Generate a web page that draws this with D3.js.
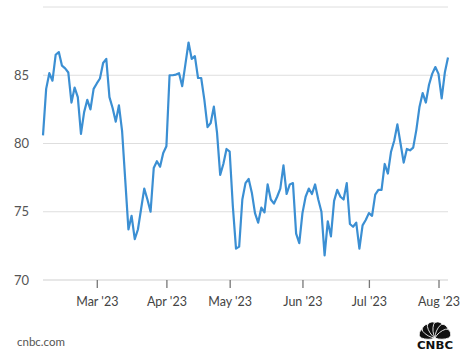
<!DOCTYPE html>
<html>
<head>
<meta charset="utf-8">
<script src="https://cdn.jsdelivr.net/npm/d3@7"></script>
<style>
  body { margin: 0; background: #fff; }
  svg { display: block; font-family: Lato, "Open Sans", sans-serif; }
</style>
</head>
<body>
<div id="chart"></div>
<script>
// Werte je Handelstag (Feb – Aug 2023)
const values = [
  80.6, 84.0, 85.15, 84.6, 86.5, 86.7, 85.7, 85.5, 85.2, 83.0,
  84.1, 83.4, 80.7, 82.3, 83.2, 82.5, 84.0, 84.4, 84.76, 85.9,
  86.2, 83.4, 82.6, 81.6, 82.8, 80.9, 77.3, 73.7, 74.7, 73.0,
  73.7, 75.2, 76.7, 75.9, 75.0, 78.2, 78.7, 78.3, 79.3, 79.8,
  85.0, 85.0, 85.05, 85.15, 84.2, 85.8, 87.4, 86.2, 86.4, 84.8,
  84.8, 83.2, 81.2, 81.5, 82.7, 80.8, 77.7, 78.5, 79.6, 79.4,
  75.4, 72.3, 72.45, 75.9, 77.1, 77.4, 76.4, 74.9, 74.2, 75.3,
  74.95, 77.0, 75.9, 75.6, 76.1, 76.7, 78.4, 76.3, 77.0, 77.1,
  73.4, 72.7, 74.9, 76.1, 76.7, 76.3, 77.0, 75.9, 75.0, 71.8,
  74.3, 73.2, 75.8, 76.6, 76.1, 75.9, 77.1, 74.1, 73.9, 74.2,
  72.3, 74.0, 74.4, 74.9, 74.7, 76.25, 76.6, 76.6, 78.5, 77.8,
  79.4, 80.2, 81.4, 80.0, 78.6, 79.6, 79.5, 79.7, 81.0, 82.7,
  83.7, 83.0, 84.3, 85.1, 85.6, 85.1, 83.3, 85.2, 86.3
];

// Monatsanfang als Index in der Reihe
const tickIndex = [17, 39, 59, 82, 103, 125];
const tickLabels = ["Mar '23", "Apr '23", "May '23", "Jun '23", "Jul '23", "Aug '23"];

const yTicks = [70, 75, 80, 85];
const yGrid = [70, 75, 80, 85, 90];

const width = 474, height = 362;
const margin = {top: 7, right: 26, bottom: 82, left: 43};

const svg = d3.select("#chart").append("svg")
    .attr("width", width)
    .attr("height", height);

const x = d3.scaleLinear()
    .domain([0, values.length - 1])
    .range([margin.left, width - margin.right]);

const y = d3.scaleLinear()
    .domain([70, 90])
    .range([height - margin.bottom, margin.top]);

// Rasterlinien
svg.selectAll(".grid")
    .data(yGrid)
    .enter()
    .append("line")
    .attr("class", "grid")
    .attr("x1", margin.left)
    .attr("x2", width - margin.right)
    .attr("y1", d => y(d))
    .attr("y2", d => y(d))
    .attr("stroke", d => d === 70 ? "#cfcfcf" : "#dedede")
    .attr("stroke-width", 1);

// Y-Beschriftung
svg.selectAll(".ylab")
    .data(yTicks)
    .enter()
    .append("text")
    .attr("class", "ylab")
    .attr("x", 29)
    .attr("y", d => y(d))
    .attr("dy", "0.35em")
    .attr("text-anchor", "end")
    .attr("fill", "#555")
    .style("font-size", "13px")
    .text(d => d);

// X-Achse
const xAxis = d3.axisBottom(x)
    .tickValues(tickIndex)
    .tickFormat((d, i) => tickLabels[i])
    .tickSize(8)
    .tickPadding(9);

const gx = svg.append("g")
    .attr("transform", `translate(0,${height - margin.bottom})`)
    .call(xAxis);

gx.select(".domain").remove();
gx.selectAll(".tick line").attr("stroke", "#777").attr("stroke-width", 1.3);
gx.selectAll(".tick text")
    .attr("fill", "#444")
    .style("font-size", "12.5px")
    .style("font-family", "Lato, 'Open Sans', sans-serif");

// Linie
const line = d3.line()
    .x((d, i) => x(i))
    .y(d => y(d));

svg.append("path")
    .datum(values)
    .attr("fill", "none")
    .attr("stroke", "#3b8fd3")
    .attr("stroke-width", 2.2)
    .attr("stroke-linejoin", "round")
    .attr("d", line);

// Fußzeile
svg.append("text")
    .attr("x", 17)
    .attr("y", 346)
    .attr("fill", "#555")
    .style("font-size", "11.5px")
    .text("cnbc.com");

// CNBC-Pfau
const logo = svg.append("g").attr("transform", "translate(435,338)");
const feathers = [-70, -42, -14, 14, 42, 70];
logo.selectAll(".feather")
    .data(feathers)
    .enter()
    .append("path")
    .attr("class", "feather")
    .attr("transform", d => `rotate(${d})`)
    .attr("d", "M0,0 C-3,-3 -5,-9 -4.6,-13 C-4.2,-17.5 4.2,-17.5 4.6,-13 C5,-9 3,-3 0,0 Z")
    .attr("fill", "#111")
    .attr("stroke", "#fff")
    .attr("stroke-width", 0.8);

logo.append("text")
    .attr("x", 0)
    .attr("y", 10.5)
    .attr("text-anchor", "middle")
    .attr("fill", "#111")
    .attr("textLength", 36)
    .attr("lengthAdjust", "spacingAndGlyphs")
    .style("font-family", "'DejaVu Sans', sans-serif")
    .style("font-weight", "900")
    .style("font-size", "10px")
    .text("CNBC");
</script>
</body>
</html>
